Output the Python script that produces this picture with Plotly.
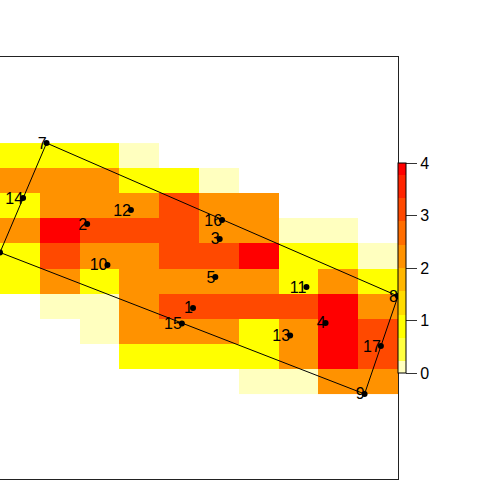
import plotly.graph_objects as go

# cell counts by row, top row first (None = no data)
counts = [
    [1, 1, 1, 0, None, None, None, None, None, None],
    [2, 2, 2, 1, 1, 0, None, None, None, None],
    [1, 2, 2, 2, 3, 2, 2, None, None, None],
    [2, 4, 3, 3, 3, 2, 2, 0, 0, None],
    [1, 3, 2, 2, 3, 3, 4, 1, 1, 0],
    [1, 2, 1, 2, 2, 2, 2, 1, 2, 1],
    [None, 0, 0, 2, 3, 3, 3, 3, 4, 2],
    [None, None, 0, 2, 2, 2, 1, 2, 4, 3],
    [None, None, None, 1, 1, 1, 1, 2, 4, 3],
    [None, None, None, None, None, None, 0, 0, 2, 2],
]
col_centers = [0.5, 1.5, 2.5, 3.5, 4.5, 5.5, 6.5, 7.5, 8.5, 9.5]
row_centers = [9.5, 8.5, 7.5, 6.5, 5.5, 4.5, 3.5, 2.5, 1.5, 0.5]

# numbered points
point_labels = [str(i) for i in range(1, 18)]
point_x = [4.85, 2.19, 5.52, 8.18, 5.41, 0.0, 1.17, 10.0, 9.16, 2.70, 7.70, 3.29, 7.29, 0.58, 4.57, 5.58, 9.57]
point_y = [3.43, 6.77, 6.18, 2.83, 4.66, 5.64, 10.0, 3.90, 0.0, 5.14, 4.26, 7.33, 2.33, 7.81, 2.81, 6.93, 1.91]

# corners of the box, by point number
box_corners = [7, 8, 9, 6, 7]

# heat.colors(10), low to high
heat_colors = ["#FFFFBF", "#FFFF40", "#FFFF00", "#FFDB00", "#FFB600",
               "#FF9200", "#FF6D00", "#FF4900", "#FF2400", "#FF0000"]
tick_vals = [0, 1, 2, 3, 4]

# stepped colorscale, half bands at both ends
n = len(heat_colors)
colorscale = []
for i, c in enumerate(heat_colors):
    low = max(0, (2 * i - 1) / (2 * n - 2))
    high = min(1, (2 * i + 1) / (2 * n - 2))
    colorscale.append([low, c])
    colorscale.append([high, c])

fig = go.Figure()

fig.add_heatmap(
    x=col_centers,
    y=row_centers,
    z=counts,
    zmin=0,
    zmax=4,
    colorscale=colorscale,
    hoverongaps=False,
    colorbar=dict(
        x=1,
        xanchor="left",
        xpad=0,
        ypad=0,
        y=0.5,
        yanchor="middle",
        len=210,
        lenmode="pixels",
        thickness=8,
        outlinewidth=1,
        outlinecolor="black",
        tickmode="array",
        tickvals=tick_vals,
        tickprefix="\u00a0",
        ticks="outside",
        ticklen=11,
        tickwidth=1,
        tickcolor="#333333",
        tickfont=dict(family="Liberation Sans", size=16, color="black"),
    ),
)

# box through the corner points
fig.add_scatter(
    x=[point_x[i - 1] for i in box_corners],
    y=[point_y[i - 1] for i in box_corners],
    mode="lines",
    line=dict(color="black", width=1),
    showlegend=False,
)

fig.add_scatter(
    x=point_x,
    y=point_y,
    mode="markers",
    marker=dict(color="black", size=6),
    showlegend=False,
)

# labels in their own trace so they sit right up against the points,
# nudged down a little to line up with the digits
fig.add_scatter(
    x=point_x,
    y=[v - 0.06 for v in point_y],
    mode="text",
    text=point_labels,
    textposition="middle left",
    textfont=dict(family="Liberation Sans", size=16, color="black"),
    showlegend=False,
)

fig.update_xaxes(
    range=[0, 10],
    showgrid=False,
    zeroline=False,
    showticklabels=False,
    ticks="",
    showline=True,
    mirror=True,
    linecolor="#222222",
    linewidth=1,
)
fig.update_yaxes(
    range=[-3.39, 13.43],
    showgrid=False,
    zeroline=False,
    showticklabels=False,
    ticks="",
    showline=True,
    mirror=True,
    linecolor="#222222",
    linewidth=1,
)

fig.update_layout(
    width=480,
    height=480,
    autosize=False,
    margin=dict(l=0, r=82, t=57, b=1),
    paper_bgcolor="white",
    plot_bgcolor="white",
    showlegend=False,
)

fig.write_html(
    "out.html",
    config=dict(displayModeBar=False),
    post_script="document.body.style.margin = '0';",
)
